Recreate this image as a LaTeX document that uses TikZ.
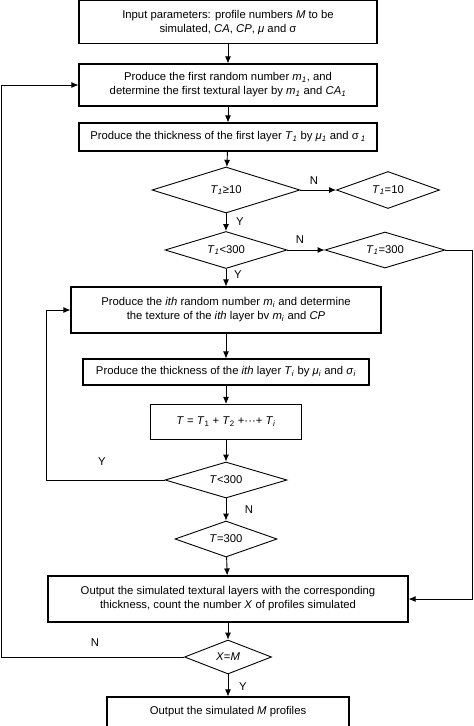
\documentclass[tikz,border=0pt]{standalone}
\usepackage{fontspec}
\setmainfont{Liberation Sans}
\usetikzlibrary{shapes.geometric, arrows.meta}

\newcommand{\idx}[2]{\textit{#1}\textsubscript{\textit{#2}}}

\begin{document}
\begin{tikzpicture}[x=1pt, y=-1pt,
    font=\fontsize{11.3}{14}\selectfont,
    box/.style={draw, line width=1.1pt, align=center, inner sep=0pt},
    dia/.style={draw, line width=0.9pt, diamond, aspect=3, inner sep=0pt},
    arr/.style={line width=0.9pt, -{Latex[length=7pt, width=6pt]}},
    lab/.style={inner sep=0pt}]
  \useasboundingbox (0,0) rectangle (474,726);
  % start of a profile
  \node[box, minimum width=298, minimum height=43] (input) at (228,22)
    {Input parameters: profile numbers \textit{M} to be\\simulated, \textit{CA}, \textit{CP}, \textit{μ} and σ};
  \node[box, minimum width=298, minimum height=42] (first) at (228,85)
    {Produce the first random number \idx{m}{1}, and\\determine the first textural layer by \idx{m}{1} and \idx{CA}{1}};
  \node[box, minimum width=298, minimum height=28] (thick1) at (228,137)
    {Produce the thickness of the first layer \idx{T}{1} by \idx{μ}{1} and σ\,\textsubscript{\textit{1}}};
  % limits of the first layer
  \node[dia, minimum width=148, minimum height=46] (ge10) at (226,190) {\idx{T}{1}≥10};
  \node[dia, minimum width=103, minimum height=37] (eq10) at (388,190) {\idx{T}{1}=10};
  \node[dia, minimum width=122, minimum height=37] (lt300) at (226,250) {\idx{T}{1}<300};
  \node[dia, minimum width=120, minimum height=36] (eq300) at (385,250) {\idx{T}{1}=300};
  % further layers
  \node[box, minimum width=310, minimum height=46] (ith) at (226,310)
    {Produce the \textit{ith} random number \idx{m}{i} and determine\\the texture of the \textit{ith} layer bv \idx{m}{i} and \textit{CP}};
  \node[box, minimum width=286, minimum height=26] (thicki) at (226,372)
    {Produce the thickness of the \textit{ith} layer \idx{T}{i} by \idx{μ}{i} and \idx{σ}{i}};
  \node[box, minimum width=151, minimum height=35] (sum) at (226,422)
    {\textit{T} = \textit{T}\textsubscript{1} + \textit{T}\textsubscript{2} +···+ \idx{T}{i}};
  \node[dia, minimum width=122, minimum height=36] (tlt) at (226,480) {\textit{T}<300};
  \node[dia, minimum width=102, minimum height=36] (teq) at (226,539) {\textit{T}=300};
  % output
  \node[box, minimum width=360, minimum height=46] (out) at (228,599)
    {Output the simulated textural layers with the corresponding\\thickness, count the number \textit{X} of profiles simulated};
  \node[dia, minimum width=87, minimum height=34] (xm) at (228,657) {\textit{X}=\textit{M}};
  \node[box, minimum width=242, minimum height=30] (final) at (228,712)
    {Output the simulated \textit{M} profiles};
  % turning points of the loops
  \coordinate (rgt) at (472.5,250);
  \coordinate (lin) at (46,480);
  \coordinate (lout) at (1.5,657);
  % connectors
  \draw[arr] (input) -- (first);
  \draw[arr] (first) -- (thick1);
  \draw[arr] (thick1) -- (ge10);
  \draw[arr] (ge10) -- (eq10);
  \draw[arr] (ge10) -- (lt300);
  \draw[arr] (lt300) -- (eq300);
  \draw[arr] (lt300) -- (ith);
  \draw[arr] (eq300.east) -- (rgt) |- (out.east);
  \draw[arr] (ith) -- (thicki);
  \draw[arr] (thicki) -- (sum);
  \draw[arr] (sum) -- (tlt);
  \draw[arr] (tlt.west) -- (lin) |- (ith.west);
  \draw[arr] (tlt) -- (teq);
  \draw[arr] (teq) -- (out);
  \draw[arr] (out) -- (xm);
  \draw[arr] (xm.west) -- (lout) |- (first.west);
  \draw[arr] (xm) -- (final);
  % branch labels
  \node[lab] (n1) at (314,181) {N};
  \node[lab] (y1) at (240,222) {Y};
  \node[lab] (n2) at (300,240) {N};
  \node[lab] (y2) at (238,275) {Y};
  \node[lab] (y3) at (102,462) {Y};
  \node[lab] (n3) at (249,510) {N};
  \node[lab] (n4) at (95,643) {N};
  \node[lab] (y4) at (243,687) {Y};
\end{tikzpicture}
\end{document}
